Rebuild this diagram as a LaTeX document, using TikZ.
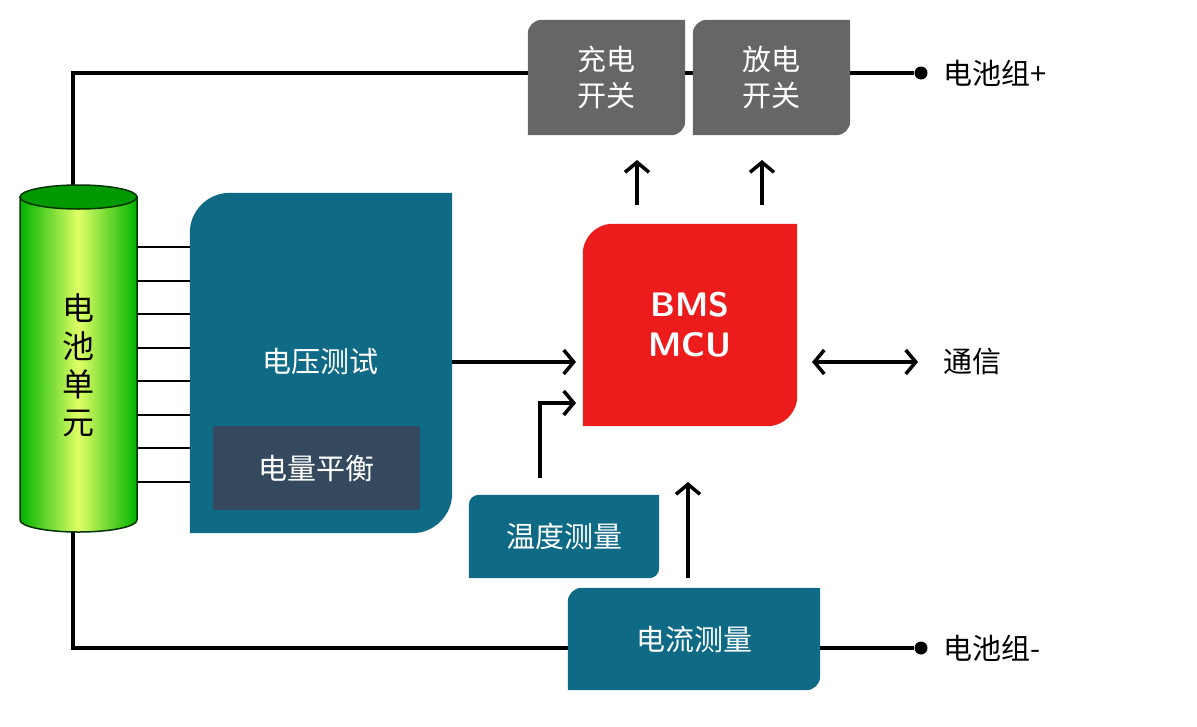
\documentclass[tikz,border=0pt]{standalone}
\usepackage{fontspec}
\newfontfamily\cjk{Noto Sans CJK SC}
\usetikzlibrary{backgrounds,arrows.meta}
\definecolor{tealbox}{HTML}{0E6A85}
\definecolor{slatebox}{HTML}{34495E}
\definecolor{graybox}{HTML}{666666}
\definecolor{redbox}{HTML}{EC1C1C}
\tikzset{%
  every node/.style = {font=\cjk\fontsize{29}{36}\selectfont},
  box/.style = {draw=none, fill=none, inner sep=0pt, align=center, text=white},
  wire/.style = {draw=black, line width=4pt},
  barb/.tip = {Straight Barb[length=10pt,width=24pt,line width=3.5pt]},
  arr/.style = {wire, -barb},
  dot/.style = {circle, fill=black, inner sep=0pt, minimum size=13pt}
}
% box with rounded upper left and lower right corner
\newcommand\leafbox[3]{%
  \fill[#2] (#1.south west) [rounded corners=#3] -- (#1.north west) [sharp corners] -- (#1.north east)
    [rounded corners=#3] -- (#1.south east) [sharp corners] -- cycle;}
\begin{document}
\begin{tikzpicture}[x=1pt, y=-1pt]
  \useasboundingbox (0,0) rectangle (1197,726);

  % battery cell
  \shade[left color=green!70!black, right color=green!70!black, middle color=green!20!yellow!60,
         draw=black!80!green, line width=1.5pt]
    (20,197) -- (20,520) arc[start angle=180, end angle=360, x radius=58.5, y radius=-12] -- (137,197) -- cycle;
  \fill[green!60!black, draw=black!80!green, line width=1.5pt] (78.5,197) ellipse (58.5 and 12);
  \node[box, text=black, font=\cjk\fontsize{32}{38}\selectfont] (cell) at (78,365) {电\\池\\单\\元};
  \coordinate (celltop) at (73,185);
  \coordinate (cellbot) at (73,532);

  % boxes
  \node[box, minimum width=157, minimum height=115] (charge) at (606.5,77.5) {充电\\开关};
  \node[box, minimum width=157, minimum height=115] (discharge) at (771.5,77.5) {放电\\开关};
  \node[box, minimum width=262, minimum height=340] (volt) at (321,363) {};
  \node[box] (volttext) at (320,362) {电压测试};
  \node[box, fill=slatebox, minimum width=207, minimum height=84, rounded corners=3pt] (balance) at (316.5,468) {电量平衡};
  \node[box, minimum width=214, minimum height=202, font=\sffamily\bfseries\fontsize{34}{40}\selectfont] (mcu) at (690,325) {BMS\\MCU};
  \node[box, minimum width=190, minimum height=83] (temp) at (564,536.5) {温度测量};
  \node[box, minimum width=252, minimum height=102] (current) at (694,639) {电流测量};
  \node[dot] (plusdot) at (921,73) {};
  \node[dot] (minusdot) at (921,648) {};
  \node[anchor=west] (plus) at (940,73) {电池组+};
  \node[anchor=west] (minus) at (940,648) {电池组-};
  \node[anchor=west] (comm) at (940,362) {通信};
  \coordinate (cmd) at (918,362);

  \begin{scope}[on background layer]
    \draw[wire] (celltop) -- (celltop |- plusdot) -- (plusdot);
    \draw[wire] (cellbot) -- (cellbot |- minusdot) -- (minusdot);
    \leafbox{charge}{graybox}{14pt}
    \leafbox{discharge}{graybox}{14pt}
    \leafbox{volt}{tealbox}{40pt}
    \leafbox{mcu}{redbox}{30pt}
    \leafbox{temp}{tealbox}{10pt}
    \leafbox{current}{tealbox}{14pt}
  \end{scope}

  % cell taps
  \foreach \y in {247,281,314,348,381,415,448,482}
    \draw[black, line width=2pt] (137,\y) -- (volt.west |- 0,\y);

  % arrows
  \draw[arr] (637,205) -- (637,160);
  \draw[arr] (762,205) -- (762,160);
  \draw[arr] (volt.east |- 0,362) -- (576,362);
  \draw[arr] (540,478) -- (540,403) -- (576,403);
  \draw[arr] (688,578) -- (688,482);
  \draw[wire, barb-barb] (812,362) -- (cmd);
\end{tikzpicture}
\end{document}
